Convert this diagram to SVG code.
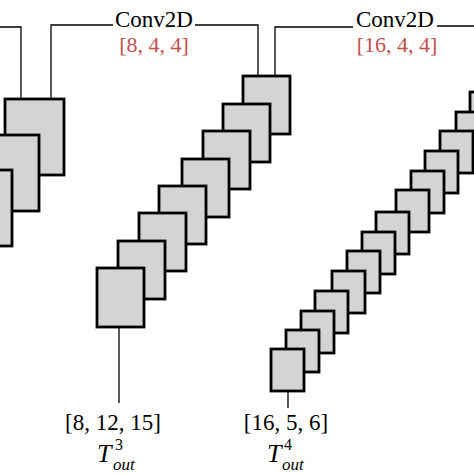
<svg xmlns="http://www.w3.org/2000/svg" width="474" height="474" viewBox="0 0 474 474">
<style>
.bx{fill:#d4d4d4;stroke:#000;stroke-width:2.8}
.ln{fill:none;stroke:#000;stroke-width:1.3}
.t{font-family:"Liberation Serif","Times New Roman",serif;font-size:23px;fill:#000}
.r{font-family:"Liberation Serif","Times New Roman",serif;font-size:22px;fill:#c0504d}
.it{font-family:"Liberation Serif","Times New Roman",serif;font-style:italic;fill:#000}
.up{font-family:"Liberation Serif","Times New Roman",serif;font-size:16px;fill:#000}
</style>
<rect width="474" height="474" fill="#fff"/>
<g id="connectors">
<polyline class="ln" points="0,27 21,27 21,99"/>
<polyline class="ln" points="51,99 51,25 113,25"/>
<polyline class="ln" points="195,25 258,25 258,76"/>
<polyline class="ln" points="275,76 275,27 353,27"/>
<polyline class="ln" points="437,26 474,26"/>
<line class="ln" x1="119" y1="327" x2="119" y2="403"/>
<line class="ln" x1="288" y1="391" x2="288" y2="408"/>
</g>
<g id="stack2">
<rect class="bx" x="5" y="99" width="59" height="76"/>
<rect class="bx" x="-20" y="135" width="59" height="76"/>
<rect class="bx" x="-47" y="170" width="59" height="76"/>
</g>
<g id="stack3">
<rect class="bx" x="243" y="76" width="47" height="58"/>
<rect class="bx" x="223" y="104" width="47" height="58"/>
<rect class="bx" x="203" y="131" width="47" height="58"/>
<rect class="bx" x="182" y="159" width="47" height="58"/>
<rect class="bx" x="159" y="186" width="47" height="58"/>
<rect class="bx" x="139" y="213" width="47" height="58"/>
<rect class="bx" x="118" y="241" width="47" height="58"/>
<rect class="bx" x="97" y="268" width="47" height="59"/>
</g>
<g id="stack4">
<rect class="bx" x="470" y="92" width="33" height="42"/>
<rect class="bx" x="456" y="112" width="33" height="42"/>
<rect class="bx" x="440" y="131" width="33" height="42"/>
<rect class="bx" x="425" y="151" width="33" height="42"/>
<rect class="bx" x="411" y="171" width="33" height="42"/>
<rect class="bx" x="396" y="190" width="33" height="42"/>
<rect class="bx" x="376" y="212" width="33" height="42"/>
<rect class="bx" x="362" y="232" width="33" height="42"/>
<rect class="bx" x="347" y="251" width="33" height="42"/>
<rect class="bx" x="332" y="271" width="33" height="42"/>
<rect class="bx" x="315" y="291" width="33" height="42"/>
<rect class="bx" x="301" y="311" width="33" height="42"/>
<rect class="bx" x="286" y="330" width="33" height="42"/>
<rect class="bx" x="271" y="349" width="33" height="42"/>
</g>
<g id="conv1">
<text class="t" x="154" y="27" text-anchor="middle">Conv2D</text>
<text class="r" x="154" y="52" text-anchor="middle">[8, 4, 4]</text>
</g>
<g id="conv2">
<text class="t" x="395" y="27" text-anchor="middle">Conv2D</text>
<text class="r" x="397" y="52" text-anchor="middle">[16, 4, 4]</text>
</g>
<g id="out3">
<text class="t" x="113" y="430" text-anchor="middle">[8, 12, 15]</text>
<text class="it" x="97" y="462" font-size="26">T</text>
<text class="up" x="115" y="450">3</text>
<text class="it" x="113" y="470" font-size="17">out</text>
</g>
<g id="out4">
<text class="t" x="286" y="430" text-anchor="middle">[16, 5, 6]</text>
<text class="it" x="267" y="462" font-size="26">T</text>
<text class="up" x="284" y="450">4</text>
<text class="it" x="282" y="470" font-size="17">out</text>
</g>
</svg>
